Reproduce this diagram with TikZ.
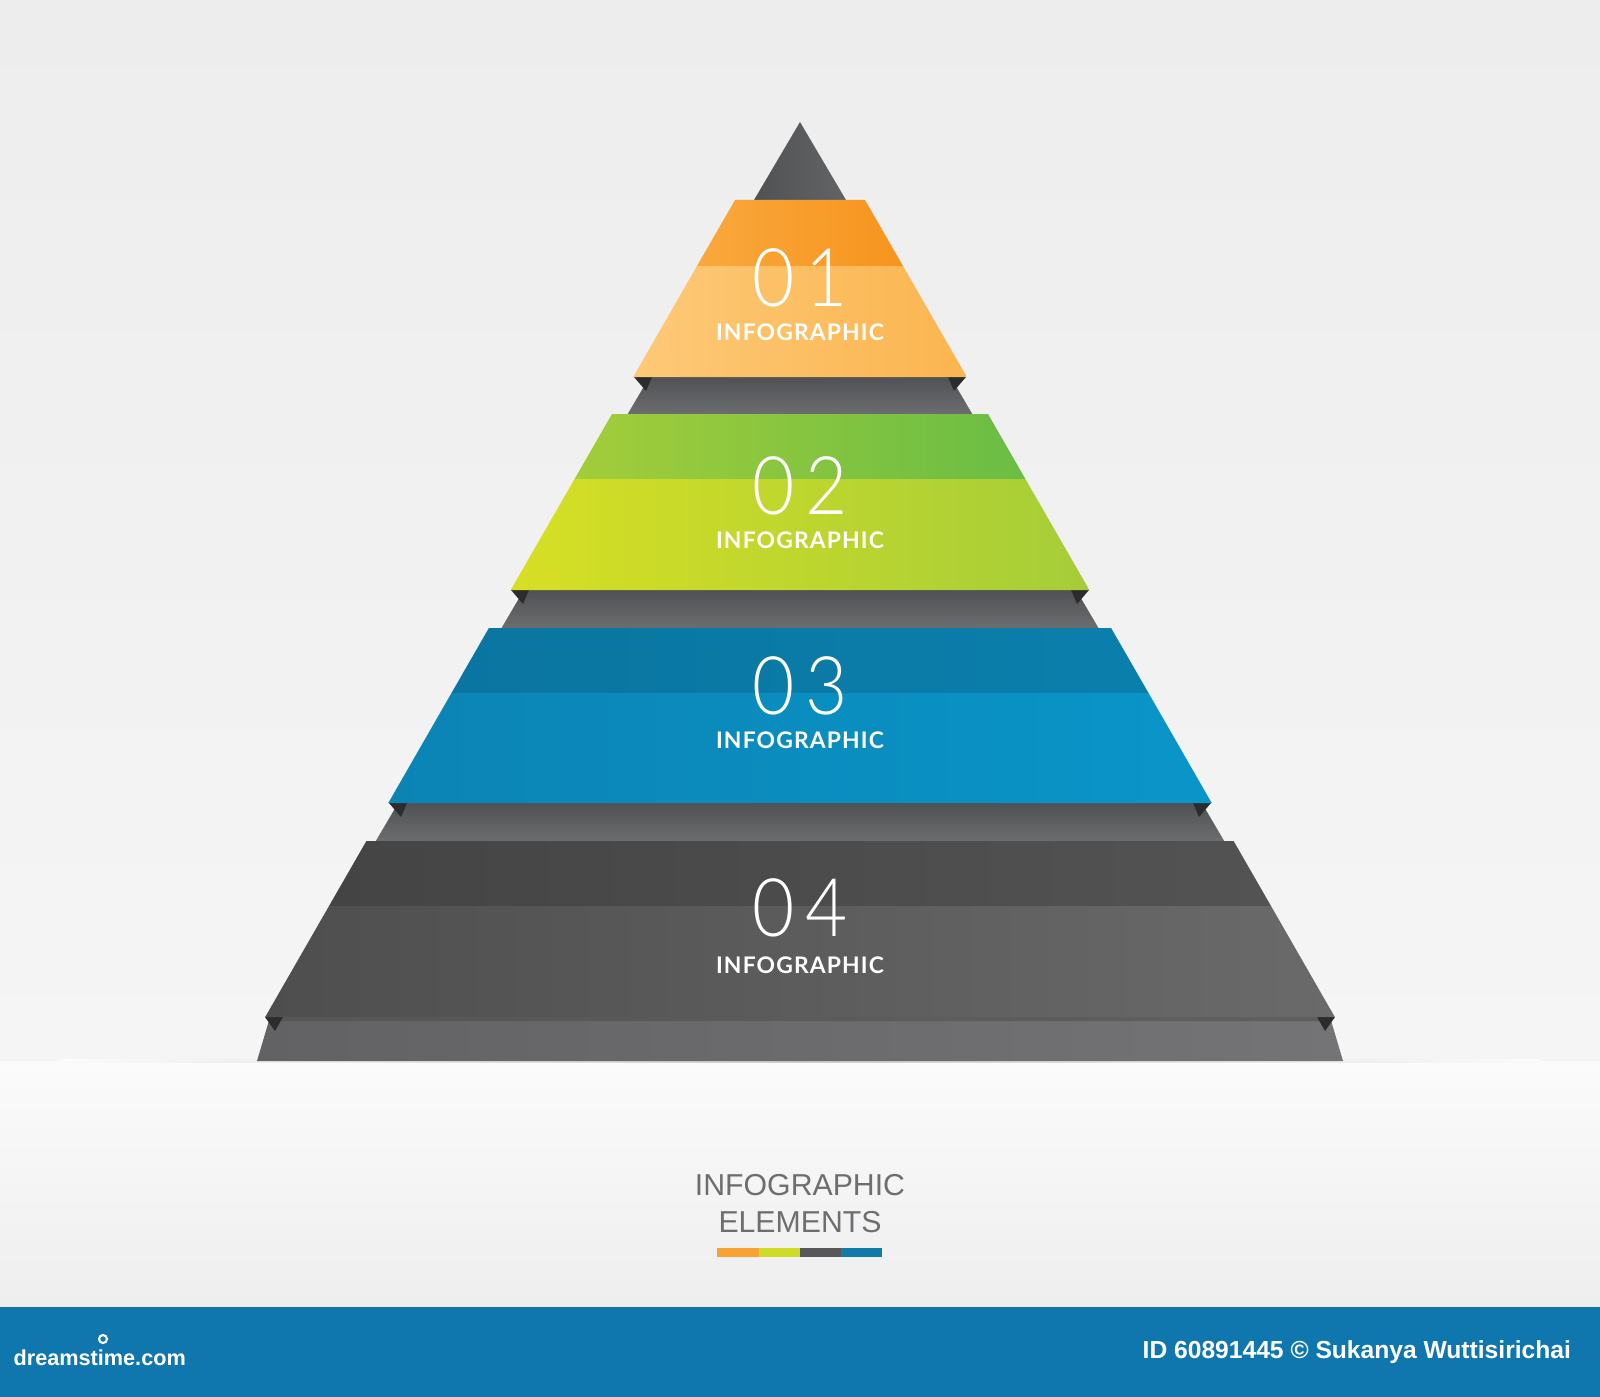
\documentclass[tikz,border=0pt]{standalone}
\usepackage{fontspec}
\usepackage{graphicx}
\setmainfont{Lato}
\newfontfamily\numfont[LetterSpace=14]{Lato Light}
\newfontfamily\labfont[LetterSpace=5]{Lato Bold}
\newfontfamily\titlefont{Liberation Sans}
\newfontfamily\footfont{Liberation Sans}
\newcommand{\dignum}[1]{\scalebox{0.9}[1]{#1}}
\definecolor{bgtop}{HTML}{EDEDED}
\definecolor{bgmid}{HTML}{F5F5F5}
\definecolor{floorA}{HTML}{FBFBFB}
\definecolor{floorB}{HTML}{EEEEEE}
\definecolor{grayTri}{HTML}{5A5B5D}
\definecolor{gapT}{HTML}{505154}
\definecolor{gapB}{HTML}{6C6D6F}
\definecolor{notch}{HTML}{2C2C2E}
\definecolor{orUL}{HTML}{F9A83D}
\definecolor{orUR}{HTML}{F7941E}
\definecolor{orLL}{HTML}{FDC978}
\definecolor{orLR}{HTML}{FBB54F}
\definecolor{grUL}{HTML}{A3CD3A}
\definecolor{grUR}{HTML}{6ABD45}
\definecolor{grLL}{HTML}{D7DF23}
\definecolor{grLR}{HTML}{A5CD39}
\definecolor{blUL}{HTML}{0A75A0}
\definecolor{blUR}{HTML}{0B7FAC}
\definecolor{blLL}{HTML}{0B84B4}
\definecolor{blLR}{HTML}{0A95C9}
\definecolor{dkUL}{HTML}{444444}
\definecolor{dkUR}{HTML}{535353}
\definecolor{dkLL}{HTML}{4E4E4E}
\definecolor{dkLR}{HTML}{6A6A6A}
\definecolor{stripL}{HTML}{626264}
\definecolor{stripR}{HTML}{747476}
\definecolor{titlegray}{HTML}{6D6E70}
\definecolor{barOr}{HTML}{F7A334}
\definecolor{barLime}{HTML}{CEDC25}
\definecolor{barDk}{HTML}{58585A}
\definecolor{barBl}{HTML}{0E7BA8}
\definecolor{footer}{HTML}{1077AE}
\tikzset{
  numtxt/.style={inner sep=0pt, text=white, font=\numfont\fontsize{23}{23}\selectfont},
  labtxt/.style={inner sep=0pt, text=white, font=\labfont\fontsize{6.5}{6.5}\selectfont},
  gapband/.style={top color=gapT, bottom color=gapB},
  notchtri/.style={fill=notch},
}
\begin{document}
\begin{tikzpicture}[x=0.01cm, y=-0.01cm]
\useasboundingbox (0,0) rectangle (1600,1397);
% background
\shade[top color=bgtop, bottom color=bgmid] (0,0) rectangle (1600,1061);
\shade[top color=floorA, bottom color=floorB] (0,1061) rectangle (1600,1307);
\shade[left color=floorA, right color=floorA, middle color=black!20] (60,1059) rectangle (1540,1062);
% top grey triangle
\shade[left color=grayTri!90!black, right color=grayTri!95!white] (800,122) -- (846,200) -- (754,200) -- cycle;
% grey gaps
\shade[gapband] (649.5,377) -- (950.5,377) -- (972.3,414) -- (627.7,414) -- cycle;
\shade[gapband] (523.9,590) -- (1076.1,590) -- (1098.5,628) -- (501.5,628) -- cycle;
\shade[gapband] (398.2,803) -- (1201.8,803) -- (1224.2,841) -- (375.8,841) -- cycle;
% bottom strip
\shade[left color=stripL, right color=stripR] (270,1017) -- (1330,1017) -- (1343,1061) -- (257,1061) -- cycle;
\fill[black!70, opacity=0.5] (270,1017) -- (1330,1017) -- (1331,1021) -- (269,1021) -- cycle;
% notches
\fill[notchtri] (634,377) -- (652,377) -- (646,391) -- cycle;
\fill[notchtri] (966,377) -- (948,377) -- (954,391) -- cycle;
\fill[notchtri] (511,590) -- (529,590) -- (523,604) -- cycle;
\fill[notchtri] (1089,590) -- (1071,590) -- (1077,604) -- cycle;
\fill[notchtri] (389,803) -- (407,803) -- (401,817) -- cycle;
\fill[notchtri] (1211,803) -- (1193,803) -- (1199,817) -- cycle;
\fill[notchtri] (265,1017) -- (283,1017) -- (275,1031) -- cycle;
\fill[notchtri] (1335,1017) -- (1317,1017) -- (1325,1031) -- cycle;
% orange band
\shade[left color=orUL, right color=orUR] (735,200) -- (865,200) -- (903,266) -- (697,266) -- cycle;
\shade[left color=orLL, right color=orLR] (697,266) -- (903,266) -- (966.8,377) -- (633.2,377) -- cycle;
% green band
\shade[left color=grUL, right color=grUR] (612,414) -- (988,414) -- (1025.4,479) -- (574.6,479) -- cycle;
\shade[left color=grLL, right color=grLR] (574.6,479) -- (1025.4,479) -- (1089.3,590) -- (510.7,590) -- cycle;
% blue band
\shade[left color=blUL, right color=blUR] (488.9,628) -- (1111.1,628) -- (1148.5,693) -- (451.5,693) -- cycle;
\shade[left color=blLL, right color=blLR] (451.5,693) -- (1148.5,693) -- (1211.7,803) -- (388.3,803) -- cycle;
% dark band
\shade[left color=dkUL, right color=dkUR] (366.4,841) -- (1233.6,841) -- (1271,906) -- (329,906) -- cycle;
\shade[left color=dkLL, right color=dkLR] (329,906) -- (1271,906) -- (1334.8,1017) -- (265.2,1017) -- cycle;
% labels
\node[numtxt] (n1) at (800,278) {\dignum{01}};
\node[labtxt] (l1) at (800,332) {INFOGRAPHIC};
\node[numtxt] (n2) at (800,486) {\dignum{02}};
\node[labtxt] (l2) at (800,540) {INFOGRAPHIC};
\node[numtxt] (n3) at (800,686) {\dignum{03}};
\node[labtxt] (l3) at (800,740) {INFOGRAPHIC};
\node[numtxt] (n4) at (800,908) {\dignum{04}};
\node[labtxt] (l4) at (800,965) {INFOGRAPHIC};
% title
\node[inner sep=0pt, text=titlegray, font=\titlefont\fontsize{8.6}{8.6}\selectfont] (t1) at (800,1185) {INFOGRAPHIC};
\node[inner sep=0pt, text=titlegray, font=\titlefont\fontsize{8.6}{8.6}\selectfont] (t2) at (800,1222) {ELEMENTS};
\fill[barOr] (717,1248) rectangle (758.5,1257);
\fill[barLime] (758.5,1248) rectangle (800,1257);
\fill[barDk] (800,1248) rectangle (841,1257);
\fill[barBl] (841,1248) rectangle (882,1257);
% footer
\fill[footer] (0,1307) rectangle (1600,1397);
\node[inner sep=0pt, anchor=west, text=white] (logo) at (13,1358) {\resizebox{1.72cm}{!}{\footfont\bfseries dreamstime.com}};
\draw[white, line width=0.6pt] (103,1339) circle (4);
\node[inner sep=0pt, anchor=west, text=white] (credit) at (1142,1352.5) {\resizebox{4.28cm}{!}{\footfont\bfseries ID 60891445 \textcopyright{} Sukanya Wuttisirichai}};
\end{tikzpicture}
\end{document}
